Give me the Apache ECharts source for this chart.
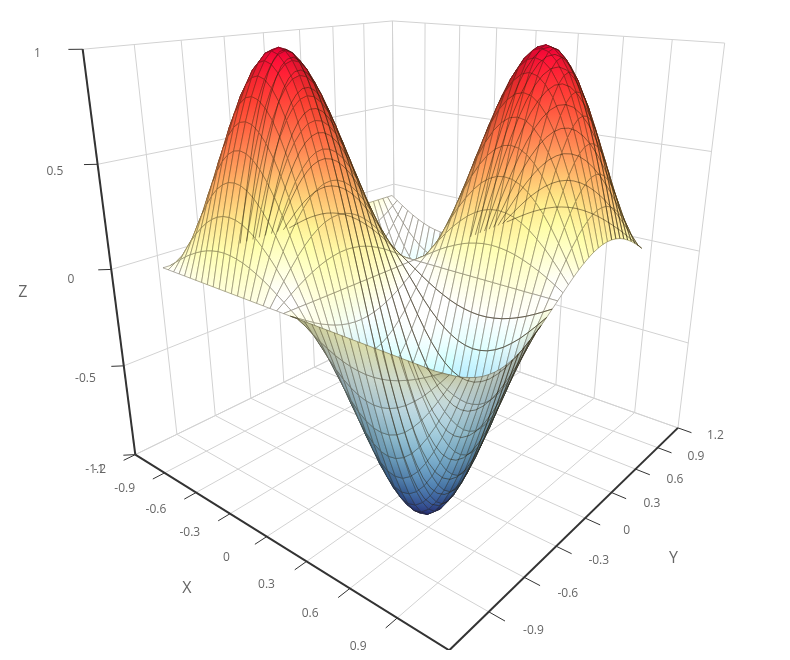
<!DOCTYPE html>
<html lang="en">
<head>
    <meta charset="UTF-8">
    <title>surface</title>
    <script src="https://cdn.jsdelivr.net/npm/echarts@6/dist/echarts.min.js"></script>
    <style>
        html, body { margin: 0; padding: 0; background: #fff; }
        #main { width: 790px; height: 650px; }
    </style>
</head>
<body>
<div id="main"></div>
<script>
    // tick labels
    var xTicks = [-1.2, -0.9, -0.6, -0.3, 0, 0.3, 0.6, 0.9, 1.2];
    var yTicks = [-1.2, -0.9, -0.6, -0.3, 0, 0.3, 0.6, 0.9, 1.2];
    var zTicks = [-1, -0.5, 0, 0.5, 1];

    // surface samples
    var xVals = [-1, -.95, -.9, -.85, -.8, -.75, -.7, -.65, -.6, -.55, -.5, -.45, -.4, -.35, -.3, -.25, -.2, -.15, -.1, -.05, 0, .05, .1, .15, .2, .25, .3, .35, .4, .45, .5, .55, .6, .65, .7, .75, .8, .85, .9, .95];
    var yVals = xVals.slice();
    var r0 = [0,0,0,0,0,0,0,0,0,0,0,0,0,0,0,0,0,0,0,0,0,0,0,0,0,0,0,0,0,0,0,0,0,0,0,0,0,0,0,0];
    var r1 = [0,.024,.048,.071,.092,.11,.126,.139,.148,.154,.156,.154,.148,.139,.126,.11,.092,.071,.048,.024,0,-.024,-.048,-.071,-.092,-.11,-.126,-.139,-.148,-.154,-.156,-.154,-.148,-.139,-.126,-.11,-.092,-.071,-.048,-.024];
    var r2 = [0,.048,.095,.14,.182,.218,.25,.275,.294,.305,.309,.305,.294,.275,.25,.218,.182,.14,.095,.048,0,-.048,-.095,-.14,-.182,-.218,-.25,-.275,-.294,-.305,-.309,-.305,-.294,-.275,-.25,-.218,-.182,-.14,-.095,-.048];
    var r3 = [0,.071,.14,.206,.267,.321,.367,.405,.432,.449,.454,.449,.432,.405,.367,.321,.267,.206,.14,.071,0,-.071,-.14,-.206,-.267,-.321,-.367,-.405,-.432,-.449,-.454,-.449,-.432,-.405,-.367,-.321,-.267,-.206,-.14,-.071];
    var r4 = [0,.092,.182,.267,.346,.416,.476,.524,.559,.581,.588,.581,.559,.524,.476,.416,.346,.267,.182,.092,0,-.092,-.182,-.267,-.346,-.416,-.476,-.524,-.559,-.581,-.588,-.581,-.559,-.524,-.476,-.416,-.346,-.267,-.182,-.092];
    var r5 = [0,.11,.218,.321,.416,.5,.572,.63,.672,.699,.707,.699,.672,.63,.572,.5,.416,.321,.218,.11,0,-.11,-.218,-.321,-.416,-.5,-.572,-.63,-.672,-.699,-.707,-.699,-.672,-.63,-.572,-.5,-.416,-.321,-.218,-.11];
    var r6 = [0,.126,.25,.367,.476,.572,.655,.721,.769,.799,.809,.799,.769,.721,.655,.572,.476,.367,.25,.126,0,-.126,-.25,-.367,-.476,-.572,-.655,-.721,-.769,-.799,-.809,-.799,-.769,-.721,-.655,-.572,-.476,-.367,-.25,-.126];
    var r7 = [0,.139,.275,.405,.524,.63,.721,.794,.847,.88,.891,.88,.847,.794,.721,.63,.524,.405,.275,.139,0,-.139,-.275,-.405,-.524,-.63,-.721,-.794,-.847,-.88,-.891,-.88,-.847,-.794,-.721,-.63,-.524,-.405,-.275,-.139];
    var r8 = [0,.148,.294,.432,.559,.672,.769,.847,.905,.939,.951,.939,.905,.847,.769,.672,.559,.432,.294,.148,0,-.148,-.294,-.432,-.559,-.672,-.769,-.847,-.905,-.939,-.951,-.939,-.905,-.847,-.769,-.672,-.559,-.432,-.294,-.148];
    var r9 = [0,.154,.305,.449,.581,.699,.799,.88,.939,.976,.988,.976,.939,.88,.799,.699,.581,.449,.305,.154,0,-.154,-.305,-.449,-.581,-.699,-.799,-.88,-.939,-.976,-.988,-.976,-.939,-.88,-.799,-.699,-.581,-.449,-.305,-.154];
    var r10 = [0,.156,.309,.454,.588,.707,.809,.891,.951,.988,1,.988,.951,.891,.809,.707,.588,.454,.309,.156,0,-.156,-.309,-.454,-.588,-.707,-.809,-.891,-.951,-.988,-1,-.988,-.951,-.891,-.809,-.707,-.588,-.454,-.309,-.156];
    var palette = ['#313695', '#4575b4', '#74add1', '#abd9e9', '#e0f3f8', '#ffffbf', '#fee090', '#fdae61', '#f46d43', '#d73027', '#a50026'];

    function neg(r) { return r.map(function (v) { return -v; }); }
    // one row per y value, the back half is the front half upside down
    var zRows = [r0, r1, r2, r3, r4, r5, r6, r7, r8, r9, r10, r9, r8, r7, r6, r5, r4, r3, r2, r1,
        r0, neg(r1), neg(r2), neg(r3), neg(r4), neg(r5), neg(r6), neg(r7), neg(r8), neg(r9), neg(r10),
        neg(r9), neg(r8), neg(r7), neg(r6), neg(r5), neg(r4), neg(r3), neg(r2), neg(r1)];

    // camera, box half width is 1.2 in x and y, 1 in z
    var az = 129.8 * Math.PI / 180, el = 20 * Math.PI / 180, dist = 4.084, focal = 852, cx = 414, cy = 260;
    var R = [Math.sin(az), -Math.cos(az), 0];
    var Fw = [Math.cos(el) * Math.cos(az), Math.cos(el) * Math.sin(az), -Math.sin(el)];
    var U = [Math.sin(el) * Math.cos(az), Math.sin(el) * Math.sin(az), Math.cos(el)];
    var camDir = [-Fw[0], -Fw[1], -Fw[2]];
    var light = [0.37, -0.437, 0.818];

    function depthOf(x, y, z) {
        return dist + Fw[0] * x / 1.2 + Fw[1] * y / 1.2 + Fw[2] * z;
    }
    function project(x, y, z) {
        var X = x / 1.2, Y = y / 1.2;
        var d = depthOf(x, y, z);
        return [
            cx + focal * (R[0] * X + R[1] * Y) / d,
            cy - focal * (U[0] * X + U[1] * Y + U[2] * z) / d
        ];
    }

    // colour of a grid node: palette by height, then lit, the underside takes less light
    function nodeColor(i, j) {
        var i0 = Math.max(i - 1, 0), i1 = Math.min(i + 1, xVals.length - 1);
        var j0 = Math.max(j - 1, 0), j1 = Math.min(j + 1, yVals.length - 1);
        var dzx = (zRows[j][i1] - zRows[j][i0]) / ((xVals[i1] - xVals[i0]) / 1.2);
        var dzy = (zRows[j1][i] - zRows[j0][i]) / ((yVals[j1] - yVals[j0]) / 1.2);
        var len = Math.sqrt(dzx * dzx + dzy * dzy + 1);
        var n = [-dzx / len, -dzy / len, 1 / len];
        var toCam = n[0] * camDir[0] + n[1] * camDir[1] + n[2] * camDir[2];
        var k;
        if (toCam >= 0) {
            k = 0.5 + (n[0] * light[0] + n[1] * light[1] + n[2] * light[2]);
        } else {
            k = 0.5 - 0.6 * toCam;
        }
        var c = echarts.color.parse(echarts.color.lerp((zRows[j][i] + 1) / 2, palette));
        return 'rgb(' + Math.round(Math.min(255, c[0] * k)) + ',' + Math.round(Math.min(255, c[1] * k)) + ',' + Math.round(Math.min(255, c[2] * k)) + ')';
    }

    // back to front list of cells
    var cells = [];
    for (var j = 0; j < yVals.length - 1; j++) {
        for (var i = 0; i < xVals.length - 1; i++) {
            var zm = (zRows[j][i] + zRows[j + 1][i + 1]) / 2;
            cells.push([i, j, depthOf((xVals[i] + xVals[i + 1]) / 2, (yVals[j] + yVals[j + 1]) / 2, zm)]);
        }
    }
    cells.sort(function (a, b) { return b[2] - a[2]; });

    var wireColor = 'rgba(40,30,10,0.36)';
    var throughColor = 'rgba(40,30,10,0.5)';

    function renderCell(params, api) {
        var i = api.value(0), j = api.value(1);
        var nodes = [[i, j], [i + 1, j], [i + 1, j + 1], [i, j + 1]];
        var pts = nodes.map(function (n) { return project(xVals[n[0]], yVals[n[1]], zRows[n[1]][n[0]]); });
        // gradient from lowest to highest corner of the cell
        var lo = 0, hi = 0;
        nodes.forEach(function (n, k) {
            if (zRows[n[1]][n[0]] < zRows[nodes[lo][1]][nodes[lo][0]]) lo = k;
            if (zRows[n[1]][n[0]] > zRows[nodes[hi][1]][nodes[hi][0]]) hi = k;
        });
        var a = pts[lo], b = pts[hi];
        if (a[0] === b[0] && a[1] === b[1]) b = [a[0], a[1] + 1];
        var fill = new echarts.graphic.LinearGradient(a[0], a[1], b[0], b[1], [
            { offset: 0, color: nodeColor(nodes[lo][0], nodes[lo][1]) },
            { offset: 1, color: nodeColor(nodes[hi][0], nodes[hi][1]) }
        ], true);
        // all four edges with the cell: a neighbour drawn later paints over half of the line
        return {
            type: 'group',
            children: [{
                type: 'polygon',
                shape: { points: pts },
                style: { fill: fill, stroke: fill, lineWidth: 0.6 }
            }, {
                type: 'polygon',
                shape: { points: pts },
                style: { fill: null, stroke: wireColor, lineWidth: 1 }
            }]
        };
    }

    // far-side rows of the hump and pit that show through the sheet: [row, first node]
    var throughRows = [];
    yVals.forEach(function (v, k) {
        if (v > -0.5 && v < 0) throughRows.push([k, 0]);
        if (v > 0.5) throughRows.push([k, 20]);
    });

    function renderRow(params, api) {
        var j = api.value(0), from = api.value(1);
        var pts = [];
        for (var i = from; i < xVals.length; i++) {
            pts.push(project(xVals[i], yVals[j], zRows[j][i]));
        }
        return {
            type: 'polyline',
            shape: { points: pts },
            style: { fill: null, stroke: throughColor, lineWidth: 1 }
        };
    }

    // walls, floor, axes
    var gridLines = [], axisLines = [], labels = [];
    xTicks.forEach(function (t) {
        gridLines.push([t, -1.2, -1, t, 1.2, -1]);
        gridLines.push([t, 1.2, -1, t, 1.2, 1]);
    });
    yTicks.forEach(function (t) {
        gridLines.push([-1.2, t, -1, 1.2, t, -1]);
        gridLines.push([-1.2, t, -1, -1.2, t, 1]);
    });
    zTicks.forEach(function (t) {
        gridLines.push([-1.2, -1.2, t, -1.2, 1.2, t]);
        gridLines.push([-1.2, 1.2, t, 1.2, 1.2, t]);
    });

    axisLines.push([-1.2, -1.2, -1, 1.2, -1.2, -1, 2]);
    axisLines.push([1.2, -1.2, -1, 1.2, 1.2, -1, 2]);
    axisLines.push([-1.2, -1.2, -1, -1.2, -1.2, 1, 2]);
    xTicks.forEach(function (t) {
        axisLines.push([t, -1.2, -1, t, -1.28, -1, 1]);
        labels.push([t, -1.46, -0.975, String(t), 12]);
    });
    yTicks.forEach(function (t) {
        axisLines.push([1.2, t, -1, 1.29, t, -1, 1]);
        labels.push([1.44, t, -0.97, String(t), 12]);
    });
    zTicks.forEach(function (t) {
        axisLines.push([-1.2, -1.2, t, -1.25, -1.25, t, 1]);
        labels.push([-1.36, -1.36, t * 1.03 - 0.045, String(t), 12]);
    });
    labels.push([0, -1.7, -1, 'X', 16]);
    labels.push([1.7, 0, -1, 'Y', 16]);
    labels.push([-1.55, -1.55, -0.1, 'Z', 16]);

    function renderLine(color) {
        return function (params, api) {
            var a = project(api.value(0), api.value(1), api.value(2));
            var b = project(api.value(3), api.value(4), api.value(5));
            return {
                type: 'line',
                shape: { x1: a[0], y1: a[1], x2: b[0], y2: b[1] },
                style: { stroke: color, lineWidth: api.value(6) || 1 }
            };
        };
    }

    function renderLabel(params, api) {
        var p = project(api.value(0), api.value(1), api.value(2));
        return {
            type: 'text',
            style: {
                x: p[0], y: p[1], text: labels[params.dataIndex][3],
                font: labels[params.dataIndex][4] + 'px "Open Sans"',
                fill: '#666', align: 'center', verticalAlign: 'middle'
            }
        };
    }

    var myChart = echarts.init(document.getElementById('main'), null, { renderer: 'canvas' });
    myChart.setOption({
        animation: false,
        series: [
            { type: 'custom', coordinateSystem: 'none', silent: true, clip: false, data: gridLines, renderItem: renderLine('#d2d2d2') },
            { type: 'custom', coordinateSystem: 'none', silent: true, clip: false, data: axisLines, renderItem: renderLine('#333') },
            { type: 'custom', coordinateSystem: 'none', silent: true, clip: false, data: labels.map(function (l) { return l.slice(0, 3); }), renderItem: renderLabel },
            { type: 'custom', coordinateSystem: 'none', silent: true, clip: false, progressive: 0, data: cells, renderItem: renderCell },
            { type: 'custom', coordinateSystem: 'none', silent: true, clip: false, data: throughRows, renderItem: renderRow }
        ]
    });
</script>
</body>
</html>
